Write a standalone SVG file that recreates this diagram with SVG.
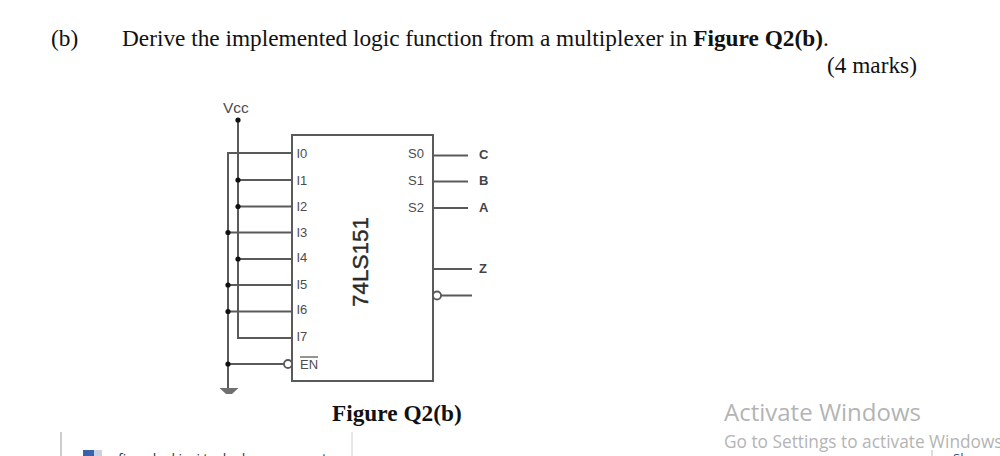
<svg xmlns="http://www.w3.org/2000/svg" width="1000" height="456" viewBox="0 0 1000 456">
<style>
.t{font-family:"Liberation Serif","Times New Roman",serif;fill:#111;font-size:23.3px}
.b{font-weight:bold}
.s{font-family:"Liberation Sans",Arial,sans-serif;fill:#4d4d4d;font-size:13px}
.o{font-family:"Liberation Sans",Arial,sans-serif;fill:#444;font-size:13px;font-weight:bold}
.w{stroke:#5a5a5a;stroke-width:2;fill:none}
.d{fill:#111}
.a{font-family:"Open Sans","Noto Sans",sans-serif;fill:#b4b4b4}
</style>
<rect width="1000" height="456" fill="#fff"/>
<text class="t" x="51" y="46">(b)</text>
<text class="t" x="122" y="46">Derive the implemented logic function from a multiplexer in <tspan class="b">Figure Q2(b)</tspan>.</text>
<text class="t" x="827" y="73">(4 marks)</text>

<g id="connectors">
<path class="w" d="M238 120V338H292"/>
<path class="w" d="M292 153H228V389"/>
<path class="w" d="M238 180H292M238 206.500H292M228 232.500H292M238 259H292M228 285H292M228 311.500H292M228 364H284"/>
<path class="w" d="M433 155.500H468M433 181.500H468M433 208H468M433 269H472M441 295.500H472"/>
<circle class="d" cx="238" cy="120" r="2.600"/>
<circle class="d" cx="238" cy="180" r="2.600"/>
<circle class="d" cx="238" cy="206.500" r="2.600"/>
<circle class="d" cx="228" cy="232.500" r="2.600"/>
<circle class="d" cx="238" cy="259" r="2.600"/>
<circle class="d" cx="228" cy="285" r="2.600"/>
<circle class="d" cx="228" cy="311.500" r="2.600"/>
<circle class="d" cx="228" cy="364" r="2.600"/>
</g>

<g id="vcc"><text class="s" x="223" y="113" style="font-size:15.500px">Vcc</text></g>

<g id="ground">
<path d="M219.500 388H238.500L232 394H226Z" fill="#707070"/>
</g>

<g id="mux">
<rect class="w" x="292" y="135" width="141" height="246" fill="#fff"/>
<circle cx="288" cy="364" r="4" fill="#fff" stroke="#5a5a5a" stroke-width="1.800"/>
<circle cx="437" cy="295.500" r="4" fill="#fff" stroke="#5a5a5a" stroke-width="1.800"/>
<text class="s" x="296.500" y="158">I0</text>
<text class="s" x="296.500" y="185">I1</text>
<text class="s" x="296.500" y="211">I2</text>
<text class="s" x="296.500" y="237">I3</text>
<text class="s" x="296.500" y="262">I4</text>
<text class="s" x="296.500" y="289">I5</text>
<text class="s" x="296.500" y="314">I6</text>
<text class="s" x="296.500" y="341">I7</text>
<text class="s" x="300" y="369">EN</text>
<text class="s" x="408" y="158">S0</text>
<text class="s" x="408" y="185">S1</text>
<text class="s" x="408" y="212">S2</text>
<path d="M300 357H318" stroke="#5a5a5a" stroke-width="1.300"/>
<text class="s" transform="translate(368 307) rotate(-90)" style="font-size:22.500px;fill:#2a2a2a;stroke:#2a2a2a;stroke-width:.4">74LS151</text>
</g>

<g id="outputs">
<text class="o" x="479" y="159">C</text>
<text class="o" x="479" y="185">B</text>
<text class="o" x="479" y="212">A</text>
<text class="o" x="479" y="273">Z</text>
</g>

<text class="t b" x="332" y="421">Figure Q2(b)</text>

<path d="M61 432V456" stroke="#bbb" stroke-width="1.500"/>
<path d="M352 432V456" stroke="#ccc"/>
<path d="M932 450V456" stroke="#bbb"/>
<rect x="83" y="450" width="11" height="6" fill="#3a62ab"/>
<rect x="94" y="450" width="8" height="6" fill="#c8d2e4"/>
<text x="118" y="464" font-size="14" textLength="209" font-family="Open Sans, sans-serif" fill="#333">final digital document</text>
<text class="a" x="724" y="421" font-size="24">Activate Windows</text>
<text class="a" x="724" y="448" font-size="17.300">Go to Settings to activate Windows</text>
<text x="953" y="463" font-size="13" font-family="Open Sans, sans-serif" fill="#2a4d8f">Show a</text>
</svg>
